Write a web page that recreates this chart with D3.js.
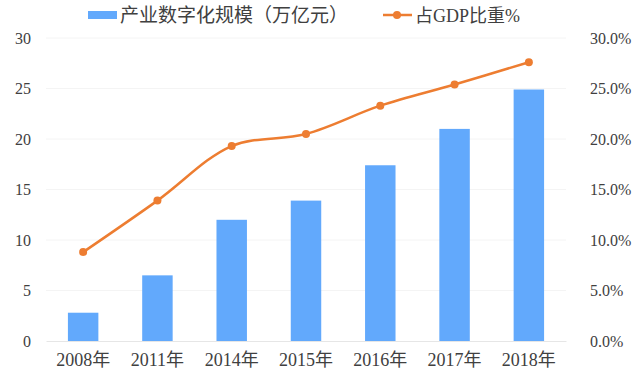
<!DOCTYPE html>
<html>
<head>
<meta charset="utf-8">
<script src="https://cdn.jsdelivr.net/npm/d3@7"></script>
<style>
  body { margin: 0; background: #fff; }
  text { font-family: "Liberation Serif", "Noto Sans CJK SC", serif; fill: #404040; }
</style>
</head>
<body>
<div id="chart"></div>
<script>
// data
const years = ['2008年', '2011年', '2014年', '2015年', '2016年', '2017年', '2018年']
const scale = [2.8, 6.5, 12.0, 13.9, 17.4, 21.0, 24.9]
const share = [8.8, 13.9, 19.3, 20.5, 23.3, 25.4, 27.6]
const leftTicks = [0, 5, 10, 15, 20, 25, 30]
const rightTicks = [0, 5, 10, 15, 20, 25, 30]

const dims = { width: 640, height: 380, left: 46, right: 566, top: 38, bottom: 341 }

const svg = d3.select('#chart')
  .append('svg')
  .attr('width', dims.width)
  .attr('height', dims.height)

// scales
const xScale = d3.scaleBand()
  .domain(years)
  .range([dims.left, dims.right])
  .paddingInner(0.59)
  .paddingOuter(0.295)

const yScale = d3.scaleLinear()
  .domain([0, 30])
  .range([dims.bottom, dims.top])

const y2Scale = d3.scaleLinear()
  .domain([0, 30])
  .range([dims.bottom, dims.top])

// gridlines
svg.append('g')
  .selectAll('line')
  .data(leftTicks.slice(1))
  .join('line')
  .attr('x1', dims.left)
  .attr('x2', dims.right)
  .attr('y1', d => yScale(d))
  .attr('y2', d => yScale(d))
  .attr('stroke', '#f4f4f4')
  .attr('stroke-width', 1)

// left axis
const yAxis = d3.axisLeft(yScale).tickValues(leftTicks).tickSize(0).tickPadding(0)
svg.append('g')
  .attr('transform', 'translate(31, 0)')
  .call(yAxis)
  .call(g => g.select('.domain').remove())
  .selectAll('text')
  .style('font-size', '16px')
  .attr('fill', '#404040')

// right axis
const y2Axis = d3.axisRight(y2Scale).tickValues(rightTicks)
  .tickFormat(d => d3.format('.1f')(d) + '%').tickSize(0).tickPadding(0)
svg.append('g')
  .attr('transform', 'translate(590, 0)')
  .call(y2Axis)
  .call(g => g.select('.domain').remove())
  .selectAll('text')
  .style('font-size', '16px')
  .attr('fill', '#404040')

// x axis
const xAxis = d3.axisBottom(xScale).tickSize(0).tickPadding(12)
svg.append('g')
  .attr('transform', `translate(0, ${dims.bottom})`)
  .call(xAxis)
  .call(g => g.select('.domain').attr('stroke', '#e6e6e6'))
  .selectAll('text')
  .style('font-size', '18px')
  .attr('fill', '#404040')

// bars
svg.append('g')
  .selectAll('rect')
  .data(scale)
  .join('rect')
  .attr('x', (d, i) => xScale(years[i]))
  .attr('y', d => yScale(d))
  .attr('width', xScale.bandwidth())
  .attr('height', d => yScale(0) - yScale(d))
  .attr('fill', '#62a9fc')

// line
const line = d3.line()
  .x((d, i) => xScale(years[i]) + xScale.bandwidth() / 2)
  .y(d => y2Scale(d))
  .curve(d3.curveCatmullRom.alpha(0.5))

svg.append('path')
  .datum(share)
  .attr('d', line)
  .attr('fill', 'none')
  .attr('stroke', '#ed7d31')
  .attr('stroke-width', 2.5)

svg.append('g')
  .selectAll('circle')
  .data(share)
  .join('circle')
  .attr('cx', (d, i) => xScale(years[i]) + xScale.bandwidth() / 2)
  .attr('cy', d => y2Scale(d))
  .attr('r', 4)
  .attr('fill', '#ed7d31')

// legend
const legend = svg.append('g')
legend.append('rect')
  .attr('x', 88).attr('y', 11).attr('width', 29).attr('height', 8)
  .attr('fill', '#62a9fc')
legend.append('text')
  .attr('x', 120).attr('y', 22)
  .style('font-size', '19px')
  .text('产业数字化规模（万亿元）')
legend.append('line')
  .attr('x1', 383).attr('x2', 412).attr('y1', 15).attr('y2', 15)
  .attr('stroke', '#ed7d31').attr('stroke-width', 2.5)
legend.append('circle')
  .attr('cx', 397).attr('cy', 15).attr('r', 4)
  .attr('fill', '#ed7d31')
legend.append('text')
  .attr('x', 415).attr('y', 22)
  .style('font-size', '18px')
  .text('占GDP比重%')
</script>
</body>
</html>
